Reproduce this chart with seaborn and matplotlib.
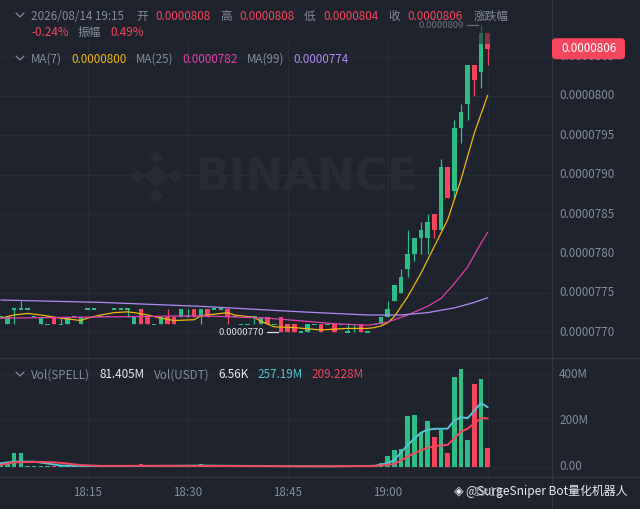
import matplotlib
matplotlib.use("Agg")
import matplotlib.pyplot as plt
import seaborn as sns
from matplotlib.patches import Rectangle, FancyBboxPatch

# 1-minute candles from 18:02 to 19:15, prices in ticks of 0.0000001
opens = [772, 771, 773, 773, 773, 772, 771, 771, 772, 771,
         771, 772, 771, 773, 773, 772, 772, 773, 773, 773,
         771, 773, 772, 771, 771, 772, 772, 772, 772, 773,
         772, 773, 773, 773, 773, 772, 771, 771, 772, 771,
         772, 771, 772, 771, 771, 770, 770, 771, 771, 771,
         771, 771, 770, 771, 771, 770, 771, 771, 772, 774,
         775, 778, 780, 782, 782, 785, 783, 791, 788, 796,
         799, 804, 803, 808]
highs = [772, 772, 773, 774, 773, 772, 772, 771, 772, 772,
         772, 772, 772, 773, 773, 772, 772, 773, 773, 773,
         772, 773, 772, 771, 772, 773, 772, 773, 773, 773,
         773, 773, 773, 773, 773, 772, 771, 771, 772, 772,
         772, 771, 772, 771, 771, 770, 771, 771, 771, 771,
         771, 771, 771, 771, 771, 770, 771, 772, 774, 776,
         778, 783, 782, 784, 785, 785, 792, 791, 797, 799,
         804, 804, 809, 808]
lows = [772, 771, 771, 773, 773, 772, 771, 771, 771, 771,
        771, 772, 771, 773, 773, 772, 772, 773, 773, 772,
        771, 771, 771, 771, 771, 771, 771, 772, 772, 772,
        771, 772, 773, 773, 771, 772, 771, 771, 771, 771,
        771, 771, 770, 770, 770, 770, 770, 771, 770, 771,
        770, 771, 770, 770, 770, 770, 771, 771, 772, 774,
        775, 777, 779, 780, 780, 782, 783, 787, 787, 794,
        797, 800, 801, 804]
closes = [772, 772, 773, 773, 773, 772, 772, 771, 771, 771,
          772, 772, 772, 773, 773, 772, 772, 773, 773, 773,
          772, 771, 771, 771, 772, 771, 771, 773, 772, 772,
          773, 772, 773, 773, 772, 772, 771, 771, 772, 772,
          771, 771, 770, 770, 770, 770, 771, 771, 770, 771,
          770, 771, 770, 771, 770, 770, 771, 772, 773, 776,
          777, 780, 782, 783, 784, 783, 791, 787, 796, 798,
          804, 802, 808, 806]
volumes = [15, 20, 62, 62, 5, 4, 6, 4, 6, 5,
           6, 3, 5, 3, 3, 2, 2, 3, 3, 4,
           6, 12, 8, 3, 5, 10, 6, 5, 4, 6,
           12, 5, 3, 3, 6, 2, 3, 3, 4, 5,
           4, 3, 7, 5, 5, 2, 4, 2, 4, 2,
           4, 3, 3, 4, 5, 4, 10, 18, 47, 73,
           76, 220, 224, 145, 196, 128, 160, 62, 385, 420,
           115, 355, 380, 81.4]

# moving average lines (candle index, value)
ma7_idx = [0, 2, 4, 6, 9, 11, 12, 13, 15, 17, 19, 20, 22, 24, 26, 29, 30, 32, 34, 35,
           37, 38, 39, 41, 44, 48, 52, 55, 56, 57, 58, 59, 61, 63, 65, 67, 69, 71, 73]
ma7_val = [771.8, 772.2, 772.4, 772.2, 771.8, 771.6, 771.5, 771.8, 772.2, 772.5, 772.6,
           772.5, 772.2, 771.8, 771.5, 771.6, 772.1, 772.3, 772.5, 772.2, 772.0, 771.9,
           771.4, 770.7, 770.6, 770.3, 770.5, 770.5, 770.6, 770.8, 771.2, 772.0, 774.5,
           777.5, 780.9, 784.3, 789.4, 795.3, 800.1]
ma25_idx = [0, 10, 20, 30, 40, 50, 55, 58, 61, 64, 66, 68, 70, 72, 73]
ma25_val = [771.8, 771.9, 772.0, 772.1, 771.8, 771.1, 770.9, 771.3, 772.2, 773.3,
            774.3, 776.2, 778.3, 781.3, 782.7]
ma99_idx = [0, 15, 30, 45, 55, 60, 64, 68, 71, 73]
ma99_val = [774.1, 773.8, 773.3, 772.6, 772.2, 772.2, 772.5, 773.1, 773.8, 774.4]
vma5_idx = [0, 2, 5, 7, 9, 15, 25, 30, 40, 50, 56, 57, 58, 59, 61, 63, 64, 65, 67, 68,
            69, 70, 72, 73]
vma5_val = [16, 23, 23, 15, 6, 4, 5, 6, 4, 3, 5, 10, 16, 30, 95, 148, 160, 164, 165,
            200, 214, 210, 275, 257]
vma10_idx = [0, 2, 6, 8, 10, 12, 15, 25, 35, 45, 56, 58, 59, 61, 63, 65, 67, 69, 70, 72, 73]
vma10_val = [9, 20, 22, 20, 15, 8, 5, 5, 4, 3, 4, 10, 13, 44, 73, 90, 95, 152, 165, 210, 209]

time_idx = [13, 28, 43, 58, 73]
time_labels = ["18:15", "18:30", "18:45", "19:00", "19:15"]
price_ticks = [770, 775, 780, 785, 790, 795, 800, 805]
vol_ticks = [0, 200, 400]
vol_tick_labels = ["0.00", "200M", "400M"]

BG = "#1e232d"
GRID = "#272d37"
SEP = "#2f3540"
GREY = "#848e9c"
GREEN = "#2ebd85"
RED = "#f6465d"
YELLOW = "#f0b90b"
PINK = "#e23fb1"
PURPLE = "#b28bf6"
CYAN = "#55c4d3"
WHITE = "#eaecef"

sns.set_style("dark")
plt.rcParams["font.family"] = ["Noto Sans CJK SC", "DejaVu Sans"]


def price_text(v):
    # exchange-style truncation to 7 decimals
    return f"0.{int(v):07d}"


W, H = 640, 509
fig = plt.figure(figsize=(6.4, 5.09), dpi=100, facecolor=BG)

# watermark layer (behind the chart)
ax_w = fig.add_axes([0, 0, 1, 1], zorder=0)
ax_w.set_xlim(0, W)
ax_w.set_ylim(H, 0)
ax_w.axis("off")
ax_w.patch.set_alpha(0)
wm = "#262b35"
ax_w.plot(156, 176, marker="D", markersize=11, color=wm)
for dx, dy in [(0, -19), (0, 19), (-19, 0), (19, 0)]:
    ax_w.plot(156 + dx, 176 + dy, marker="D", markersize=6, color=wm)
ax_w.text(196, 178, "BINANCE", fontsize=32, fontweight="bold", color=wm,
          family="DejaVu Sans", va="center", ha="left")


def setup(ax, ylim):
    ax.set_xlim(-0.12, 82.6)
    ax.set_ylim(*ylim)
    ax.set_facecolor("none")
    for s in ax.spines.values():
        s.set_visible(False)
    ax.set_xticks([])
    ax.set_yticks([])
    for i in time_idx:
        ax.axvline(i, color=GRID, lw=0.8, zorder=0)


ax_p = fig.add_axes([0, 1 - 358 / H, 551.7 / W, 358 / H], zorder=1)
setup(ax_p, (766.74, 812.19))
for p in price_ticks:
    ax_p.axhline(p, color=GRID, lw=0.8, zorder=0)

ax_v = fig.add_axes([0, 1 - 477 / H, 551.7 / W, 119 / H], zorder=1)
setup(ax_v, (-43, 468.8))
for v in vol_ticks:
    ax_v.axhline(v, color=GRID, lw=0.8, zorder=0)

# candles
for k in range(len(opens)):
    o, h, l, c = opens[k], highs[k], lows[k], closes[k]
    col = GREEN if c >= o else RED
    ax_p.vlines(k, l, h, color=col, lw=0.9, zorder=3)
    body = abs(c - o) if c != o else 0.22
    bottom = min(o, c) if c != o else o - 0.11
    ax_p.bar(k, body, bottom=bottom, width=0.68, color=col, edgecolor="none",
             linewidth=0, zorder=3)
    ax_v.bar(k, volumes[k], width=0.68, color=col, edgecolor="none",
             linewidth=0, zorder=3)

for xs, ys, col in [(ma7_idx, ma7_val, YELLOW), (ma25_idx, ma25_val, PINK),
                    (ma99_idx, ma99_val, PURPLE)]:
    sns.lineplot(x=xs, y=ys, ax=ax_p, color=col, linewidth=0.9, estimator=None,
                 sort=False, legend=False, zorder=4)
for xs, ys, col in [(vma5_idx, vma5_val, CYAN), (vma10_idx, vma10_val, RED)]:
    sns.lineplot(x=xs, y=ys, ax=ax_v, color=col, linewidth=1.4, estimator=None,
                 sort=False, legend=False, zorder=4)

# highest / lowest markers
k_hi = highs.index(max(highs))
k_lo = lows.index(min(lows))
for k, v, col in [(k_hi, max(highs), "#c9ced6"), (k_lo, min(lows), "#dfe2e6")]:
    ax_p.plot([k - 2.1, k - 0.4], [v, v], color=col, lw=0.9, zorder=5)
    ax_p.text(k - 2.6, v, price_text(v), ha="right", va="center",
              fontsize=6.8, color=col, zorder=5)

# overlay layer: header, axes labels, separators
ax_t = fig.add_axes([0, 0, 1, 1], zorder=2)
ax_t.set_xlim(0, W)
ax_t.set_ylim(H, 0)
ax_t.axis("off")
ax_t.patch.set_alpha(0)
ax_t.add_patch(Rectangle((0, 0), 510, 44, facecolor=BG, alpha=0.55, lw=0))

ax_t.axhline(358, color=SEP, lw=1)
ax_t.axhline(477, color=SEP, lw=1)
ax_t.axvline(551.7, color=SEP, lw=1)

fs = 8.4


def put(x, y, s, col, size=fs):
    ax_t.text(x, y, s, color=col, fontsize=size, ha="left", va="center")


# collapse chevrons
for y in [15, 58, 374]:
    ax_t.plot([16, 20, 24], [y - 2, y + 2, y - 2], color=GREY, lw=0.9)

put(31, 16, "2026/08/14 19:15", GREY)
put(136, 16, "开", GREY)
put(155, 16, price_text(opens[-1]), RED)
put(220, 16, "高", GREY)
put(239, 16, price_text(highs[-1]), RED)
put(304, 16, "低", GREY)
put(323, 16, price_text(lows[-1]), RED)
put(388, 16, "收", GREY)
put(407, 16, price_text(closes[-1]), RED)
put(474, 16, "涨跌幅", GREY)
put(31, 32, "-0.24%", RED)
put(78, 32, "振幅", GREY)
put(110, 32, "0.49%", RED)

put(31, 59, "MA(7)", GREY)
put(71, 59, price_text(ma7_val[-1]), YELLOW)
put(136, 59, "MA(25)", GREY)
put(182, 59, price_text(ma25_val[-1]), PINK)
put(247, 59, "MA(99)", GREY)
put(293, 59, price_text(ma99_val[-1]), PURPLE)

put(31, 375, "Vol(SPELL)", GREY)
put(99, 375, "81.405M", WHITE)
put(154, 375, "Vol(USDT)", GREY)
put(218, 375, "6.56K", WHITE)
put(257, 375, "257.19M", CYAN)
put(311, 375, "209.228M", RED)

# right axis labels
y_of_price = lambda p: 332.3 - (p - 770) * 7.877
for p in price_ticks:
    put(559, y_of_price(p), price_text(p), GREY)
y_of_vol = lambda v: 467 - v * 46.5 / 200
for v, lab in zip(vol_ticks, vol_tick_labels):
    put(559, y_of_vol(v), lab, GREY)
for i, lab in zip(time_idx, time_labels):
    ax_t.text(0.8 + 6.67 * i, 493, lab, color=GREY, fontsize=fs, ha="center", va="center")

# last price tag
yc = y_of_price(closes[-1])
ax_t.add_patch(FancyBboxPatch((552, yc - 10.5), 73, 21, boxstyle="round,pad=0,rounding_size=4",
                              facecolor=RED, edgecolor="none", zorder=6))
ax_t.text(588.5, yc, price_text(closes[-1]), color="white", fontsize=fs,
          ha="center", va="center", zorder=7)

ax_t.text(459, 491, "◈", color=WHITE, fontsize=9, ha="center", va="center",
          family=["DejaVu Sans"], zorder=7)
ax_t.text(466, 491, "@SurgeSniper Bot量化机器人", color=WHITE, fontsize=8.6,
          ha="left", va="center", zorder=7)

fig.savefig("out.png", dpi=100, facecolor=BG)
